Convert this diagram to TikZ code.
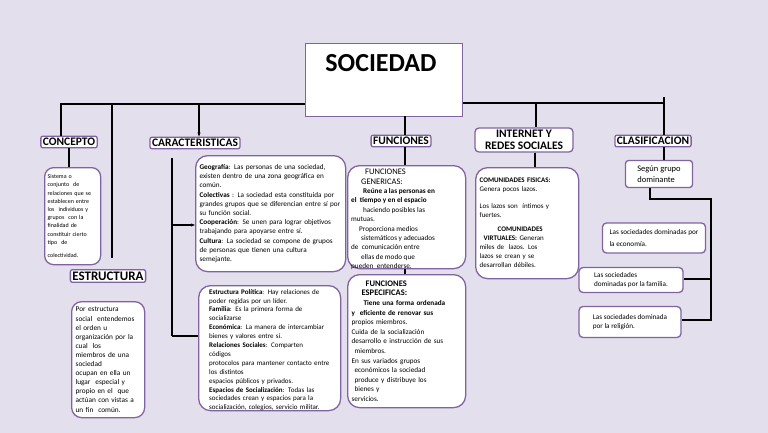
\documentclass[tikz,border=0pt]{standalone}
\usepackage{fontspec}
\setmainfont{Carlito}
\usetikzlibrary{arrows.meta}
\definecolor{bg}{HTML}{E4DFEC}
\definecolor{pur}{HTML}{8064A2}
\begin{document}
\begin{tikzpicture}[x=1pt,y=-1pt,
  title/.style={draw=pur,line width=1.3pt,fill=white,rounded corners=2pt,font=\fontsize{11.5}{12.5}\selectfont\bfseries,inner sep=2pt,align=center},
  tbox/.style={draw=pur,line width=1.3pt,fill=white,rounded corners=12pt,font=\fontsize{7.2}{8.6}\selectfont,align=left,inner sep=4pt,anchor=north west},
  ln/.style={line width=1.8pt,black},
  ar/.style={line width=1.2pt,black,-{Stealth[length=4pt]}}]
\fill[bg] (0,0) rectangle (768,433);
\useasboundingbox (0,0) rectangle (768,433);
% main
\node[draw=pur,line width=1.3pt,fill=white,minimum width=157pt,minimum height=73pt,anchor=north west,inner sep=0pt] (soc) at (305,43) {};
\node[font=\fontsize{26}{28}\selectfont\bfseries] (soct) at (381,63) {SOCIEDAD};
% titles
\node[title] (con) at (69,142) {CONCEPTO};
\node[title] (car) at (195,143) {CARACTERISTICAS};
\node[title] (fun) at (401,141) {FUNCIONES};
\node[title,rounded corners=4pt,minimum width=98pt] (int) at (524,140) {INTERNET Y\\REDES SOCIALES};
\node[title] (cla) at (653,141) {CLASIFICACION};
\node[title,font=\fontsize{13}{14}\selectfont\bfseries] (est) at (108,276) {ESTRUCTURA};
% text boxes
\node[tbox,text width=50pt,minimum height=97pt,font=\fontsize{6}{8.2}\selectfont,rounded corners=9pt,inner sep=3pt] (cont) at (44,167) {Sistema o\\conjunto\ \ de\\relaciones que se\\establecen entre\\los\ \ individuos y\\grupos\ \ con la\\finalidad de\\constituir cierto\\tipo\ \ de\\[5pt]colectividad.};
\node[tbox,text width=65pt,minimum height=116pt,rounded corners=10pt,font=\fontsize{7.3}{9.1}\selectfont] (estt) at (71,301) {Por estructura\\social\ \ entendemos\\el orden u\\organización por la\\cual\ \ los\\miembros de una\\sociedad\\ocupan en ella un\\lugar\ \ especial y\\propio en el\ \ que\\actúan con vistas a\\un fin\ \ común.};
\node[tbox,text width=142pt,minimum height=116pt,font=\fontsize{7.2}{9.2}\selectfont] (geo) at (195,155) {\textbf{Geografía}: Las personas de una sociedad,\\existen dentro de una zona geográfica en\\común.\\\textbf{Colectivas} : La sociedad esta constituida por\\grandes grupos que se diferencian entre sí por\\su función social.\\\textbf{Cooperación}: Se unen para lograr objetivos\\trabajando para apoyarse entre sí.\\\textbf{Cultura}: La sociedad se compone de grupos\\de personas que tienen una cultura\\ semejante.};
\node[tbox,text width=134pt,minimum height=125pt] (pol) at (198,285) {};
\node[anchor=north west,font=\fontsize{7}{8.9}\selectfont,align=left,text width=150pt,inner sep=0pt] (polt) at (209,289) {\textbf{Estructura Política}: Hay relaciones de\\poder regidas por un líder.\\\textbf{Familia}: Es la primera forma de\\socializarse\\\textbf{Económica}: La manera de intercambiar\\bienes y valores entre sí.\\\textbf{Relaciones Sociales}: Comparten\\códigos\\protocolos para mantener contacto entre\\los distintos\\espacios públicos y privados.\\\textbf{Espacios de Socialización}: Todas las\\sociedades crean y espacios para la\\socialización, colegios, servicio militar.};
\node[tbox,text width=110pt,minimum height=103pt] (gen) at (347,165) {};
\node[anchor=north west,font=\fontsize{7.2}{9.4}\selectfont,align=left,inner sep=0pt] (gent) at (351,169) {\hspace{14pt}{\fontsize{8.5}{9.5}\selectfont FUNCIONES}\\\hspace{10pt}{\fontsize{8.5}{9.5}\selectfont GENERICAS:}\\\hspace{12pt}\textbf{Reúne a las personas en}\\\textbf{el\ \ tiempo y en el espacio}\\\hspace{12pt}haciendo posibles las\\mutuas.\\\hspace{8pt}Proporciona medios\\\hspace{10pt}sistemáticos y adecuados\\de\ \ comunicación entre\\\hspace{10pt}ellas de modo que\\pueden\ \ entenderse.};
\node[tbox,text width=110pt,minimum height=133pt,font=\fontsize{7.2}{9.6}\selectfont] (esp) at (347,274) {\hspace{14pt}{\fontsize{8.5}{9.5}\selectfont\bfseries FUNCIONES}\\\hspace{10pt}{\fontsize{8.5}{9.5}\selectfont\bfseries ESPECIFICAS:}\\\hspace{12pt}\textbf{Tiene una forma ordenada}\\\textbf{y\ \ eficiente de renovar sus}\\propios miembros.\\Cuida de la socialización\\desarrollo e instrucción de sus\\\hspace{3pt}miembros.\\En sus variados grupos\\\hspace{3pt}económicos la sociedad\\\hspace{3pt}produce y distribuye los\\\hspace{3pt}bienes y\\servicios.};
\node[tbox,text width=95pt,minimum height=111pt,font=\fontsize{7}{9}\selectfont] (intt) at (475,167) {\textbf{COMUNIDADES FISICAS:}\\Genera pocos lazos.\\[8pt]Los lazos son\ \ íntimos y\\fuertes.\\[5pt]\hspace{18pt}\textbf{COMUNIDADES}\\\hspace{4pt}\textbf{VIRTUALES:} Generan\\miles de\ \ lazos. Los\\lazos se crean y se\\desarrollan débiles.};
\node[title,font=\fontsize{8.5}{10.5}\selectfont\mdseries,align=left,minimum width=67pt,minimum height=27pt,rounded corners=3pt] (seg) at (659,174) {Según grupo\\ dominante};
\node[title,font=\fontsize{7.2}{12}\selectfont\mdseries,align=left,minimum width=103pt,minimum height=30pt,rounded corners=4pt] (eco) at (654,238) {Las sociedades dominadas por\\ la economía.};
\node[title,font=\fontsize{7.2}{9}\selectfont\mdseries,align=left,minimum width=104pt,minimum height=25pt,rounded corners=4pt] (fam) at (631,280) {Las sociedades\\ dominadas por la familia.};
\node[title,font=\fontsize{7.2}{9}\selectfont\mdseries,align=left,minimum width=102pt,minimum height=31pt,rounded corners=4pt] (rel) at (630,322) {Las sociedades dominada\\por la religión.};
% connectors
\draw[ln] (soc.west |- 0,104) -| (con.north -| 61,0);
\draw[ln] (112,104) -- (112,258);
\draw[ar] (199,104) -- (car.north -| 199,0);
\draw[ln] (405,116) -- (fun.north -| 405,0);
\draw[ln] (soc.east |- 0,103) -- (664,103);
\draw[ln] (664,97) -- (cla.north -| 664,0);
\draw[ln] (536,103) -- (int.north -| 536,0);
\draw[ln] (con.south -| 69,0) -- (cont.north -| 69,0);
\draw[ln] (172,158) -- (172,336);
\draw[ar] (172,225) -- (geo.west |- 0,225);
\draw[ln] (172,336) -- (pol.west |- 0,336);
\draw[ln] (fun.south -| 405,0) -- (gen.north -| 405,0);
\draw[ln] (gen.south -| 405,0) -- (esp.north -| 405,0);
\draw[ln] (int.south -| 535,0) -- (intt.north -| 535,0);
\draw[ln] (cla.south -| 664,0) -- (seg.north -| 664,0);
\draw[ln] (seg.south -| 650,0) |- (711,199) -- (711,320) -- (rel.east |- 0,320);
\draw[ln] (fam.east |- 0,279) -- (711,279);
\end{tikzpicture}
\end{document}
